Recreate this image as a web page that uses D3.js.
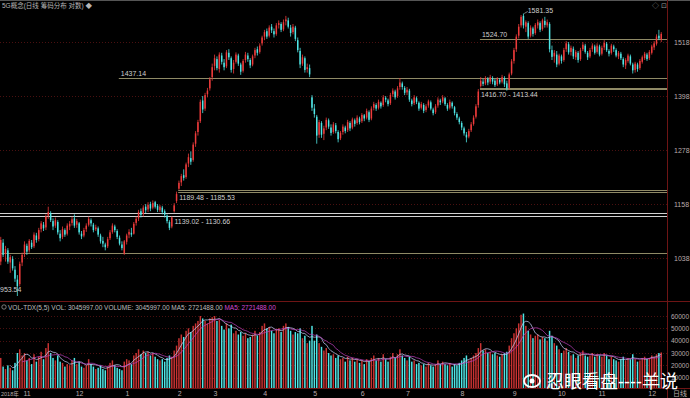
<!DOCTYPE html>
<meta charset="utf-8">
<html>
<head>
<script src="https://cdn.jsdelivr.net/npm/d3@7"></script>
<style>
  body { margin: 0; background: #000; }
  svg { display: block; }
  text { font-family: 'Liberation Sans', 'Noto Sans CJK SC', sans-serif; }
</style>
</head>
<body>
<script>
// month labels on the time axis and the candle index where each month starts
var monthLabels = ['2018年', '11', '12', '1', '2', '3', '4', '5', '6', '7', '8', '9', '10', '11', '12'];
var monthStart = [0, 9, 31, 52, 74, 89, 110, 131, 151, 170, 193, 215, 234, 251, 272];

// daily prices (Oct 2018 .. Dec 2019)
var open = [
  1030,1072,1048,1055,1028,1036,1012,990,980,
  1028,1048,1065,1055,1072,1064,1088,1080,1102,1112,1106,1132,1138,1120,1110,1118,1092,1085,1100,1092,1108,1116,
  1126,1112,1115,1092,1088,1102,1112,1122,1112,1102,1104,1088,1076,1068,1064,1082,1096,1108,1098,1083,1068,
  1048,1074,1090,1094,1092,1116,1126,1142,1136,1152,1146,1158,1150,1162,1154,1144,1150,1142,1132,1118,1108,1142,
  1165,1192,1206,1222,1218,1248,1260,1256,1292,1318,1342,1388,1370,1402,1415,
  1440,1465,1480,1458,1488,1472,1464,1494,1482,1458,1474,1488,1468,1454,1478,1488,1478,1468,1488,1502,1496,
  1515,1530,1542,1532,1552,1542,1536,1556,1558,1546,1564,1566,1550,1540,1550,1522,1498,1470,1482,1458,1460,
  1395,1370,1352,1312,1338,1314,1328,1344,1328,1318,1333,1318,1304,1318,1328,1322,1338,1328,1344,1338,
  1348,1342,1355,1350,1362,1348,1372,1378,1372,1383,1378,1394,1388,1382,1402,1408,1398,1418,1426,
  1416,1406,1410,1388,1382,1393,1383,1372,1378,1367,1377,1384,1368,1362,1377,1388,1386,1393,1378,1372,1383,1373,1358,
  1348,1338,1326,1312,1308,1322,1336,1352,1378,1420,1430,1426,1436,1430,1438,1432,1424,1434,1430,1438,1426,1416,
  1448,1476,1502,1532,1555,1576,1552,1560,1532,1548,1538,1555,1560,1547,1565,1555,1558,1500,1486,
  1490,1470,1486,1478,1502,1513,1496,1503,1484,1494,1480,1502,1510,1494,1486,1502,1508,
  1496,1508,1492,1506,1514,1498,1494,1508,1500,1486,1492,1480,1466,1476,1486,1468,1456,1468,1460,1474,1482,
  1490,1482,1494,1506,1514,1532,1524
];
var close = [
  1078,1045,1058,1030,1040,1015,992,975,1025,
  1045,1068,1052,1076,1062,1090,1078,1100,1115,1104,1130,1140,1122,1108,1122,1095,1082,1102,1090,1110,1114,1124,
  1110,1120,1095,1086,1100,1110,1125,1115,1100,1106,1090,1075,1070,1062,1080,1095,1110,1100,1085,1070,1060,
  1075,1088,1096,1090,1114,1125,1140,1134,1150,1144,1156,1148,1160,1152,1145,1152,1140,1134,1120,1105,1128,1155,
  1180,1205,1220,1216,1246,1262,1252,1290,1315,1340,1385,1368,1400,1410,1435,
  1462,1482,1460,1490,1474,1462,1495,1484,1456,1472,1490,1470,1452,1476,1490,1480,1466,1486,1500,1494,1510,
  1528,1540,1530,1550,1544,1535,1555,1560,1545,1562,1568,1552,1538,1552,1525,1500,1468,1484,1456,1462,1446,
  1372,1358,1310,1340,1312,1326,1345,1330,1316,1335,1320,1302,1316,1330,1320,1340,1326,1346,1336,1350,
  1340,1356,1348,1365,1345,1370,1380,1370,1385,1375,1395,1390,1380,1400,1410,1395,1415,1428,1418,
  1405,1412,1390,1380,1395,1385,1370,1380,1365,1375,1386,1370,1360,1375,1390,1384,1395,1380,1370,1385,1375,1360,1350,
  1340,1328,1315,1306,1320,1335,1350,1375,1408,1432,1425,1438,1428,1440,1430,1422,1436,1428,1440,1424,1415,1446,
  1475,1500,1530,1552,1574,1555,1562,1530,1550,1536,1556,1562,1545,1566,1556,1562,1502,1485,1494,
  1468,1488,1476,1500,1515,1495,1505,1486,1496,1478,1500,1512,1496,1484,1500,1510,1494,
  1510,1490,1505,1516,1500,1492,1510,1502,1488,1494,1482,1468,1478,1488,1470,1455,1470,1458,1476,1484,1492,
  1480,1496,1508,1515,1530,1526,1536
];
var high = [
  1085,1080,1065,1060,1045,1042,1020,1000,1030,
  1050,1075,1070,1080,1078,1095,1094,1105,1120,1118,1135,1152,1142,1126,1128,1122,1100,1108,1104,1115,1120,1130,
  1135,1125,1118,1098,1105,1115,1130,1126,1116,1112,1108,1092,1085,1072,1085,1100,1115,1112,1102,1088,1075,
  1078,1092,1102,1105,1118,1130,1145,1148,1155,1158,1162,1163,1166,1165,1158,1156,1154,1146,1135,1122,1130.66,1160,
  1185.53,1210,1225,1235,1250,1270,1275,1295,1320,1345,1390,1398,1405,1416,1440,
  1470,1490,1486,1495,1494,1480,1500,1502,1486,1478,1495,1492,1472,1480,1496,1494,1482,1490,1505,1508,1515,
  1532,1545,1548,1555,1558,1548,1560,1566,1562,1568,1576,1572,1556,1558,1554,1528,1505,1490,1486,1470,1468,
  1400,1380,1356,1345,1342,1332,1350,1348,1335,1340,1338,1322,1320,1335,1332,1345,1342,1350,1348,1355,
  1352,1360,1358,1370,1366,1375,1385,1382,1390,1386,1400,1398,1392,1405,1415,1412,1420,1438,1430,
  1420,1418,1414,1392,1400,1397,1386,1385,1382,1380,1390,1388,1372,1380,1395,1392,1400,1396,1382,1390,1386,1376,1362,
  1352,1342,1330,1318,1325,1340,1355,1380,1413.44,1440,1436,1442,1440,1445,1442,1436,1440,1438,1445,1442,1432,1450,
  1480,1505,1535,1558,1578,1581.35,1566,1564,1555,1552,1560,1568,1564,1570,1574,1568,1562,1510,1500,
  1498,1492,1490,1505,1520,1518,1510,1508,1500,1498,1505,1518,1514,1498,1505,1515,1512,
  1515,1512,1510,1522,1518,1502,1514,1512,1504,1498,1496,1484,1482,1492,1490,1472,1474,1472,1480,1488,1496,
  1494,1500,1512,1520,1535,1545,1540
];
var low = [
  1022,1040,1030,1025,1005,1010,985,953.54,975,
  1020,1040,1045,1050,1058,1060,1072,1075,1095,1098,1100,1125,1118,1100,1105,1090,1075,1080,1085,1088,1100,1110,
  1105,1105,1090,1080,1084,1096,1108,1108,1095,1098,1085,1070,1062,1055,1060,1078,1092,1095,1080,1066,1055,
  1045,1068,1082,1085,1090,1110,1120,1128,1130,1138,1140,1142,1146,1148,1140,1140,1135,1128,1115,1100,1104,1139.02,
  1160,1189.48,1198,1210,1214,1240,1245,1252,1285,1310,1338,1360,1365,1395,1410,
  1432,1455,1455,1450,1468,1455,1460,1478,1450,1448,1470,1465,1445,1450,1472,1474,1460,1464,1482,1488,1492,
  1510,1522,1525,1528,1538,1528,1532,1548,1540,1542,1555,1548,1530,1535,1520,1495,1460,1465,1450,1450,1440,
  1365,1350,1292,1305,1305,1300,1322,1325,1310,1314,1315,1295,1300,1312,1315,1318,1320,1324,1330,1334,
  1335,1338,1342,1346,1340,1344,1366,1365,1368,1370,1374,1384,1375,1378,1396,1390,1394,1412,1412,
  1400,1400,1385,1375,1378,1380,1365,1368,1360,1362,1372,1366,1355,1358,1372,1378,1382,1376,1365,1368,1370,1355,1345,
  1335,1322,1310,1295,1304,1318,1332,1348,1372,1416.70,1420,1422,1422,1425,1424,1418,1420,1424,1426,1418,1410,1412,
  1444,1470,1496,1526,1550,1548,1540,1525,1528,1530,1534,1548,1540,1543,1550,1550,1495,1478,1472,
  1462,1466,1470,1474,1496,1490,1488,1480,1478,1472,1476,1498,1492,1478,1482,1496,1490,
  1492,1486,1488,1500,1496,1486,1490,1496,1484,1480,1478,1462,1458,1472,1466,1448,1450,1452,1456,1470,1478,
  1476,1478,1490,1500,1510,1522,1518
];
// volume in units of 10,000
var volume = [
  260,190,170,200,180,160,220,300,330,
  280,300,240,260,210,290,230,270,310,250,340,380,300,260,240,280,230,220,190,210,200,240,
  260,210,230,190,180,200,250,210,190,170,180,200,170,160,190,220,240,200,180,170,160,
  230,250,240,210,280,300,330,290,320,300,310,280,300,270,250,240,250,230,260,280,270,320,
  360,420,450,430,480,500,470,520,540,560,600,580,560,540,580,
  590,600,560,570,520,490,540,500,530,460,480,450,470,440,460,420,430,450,480,440,470,
  520,540,500,510,480,460,490,500,470,520,540,510,480,450,470,460,500,420,440,380,400,
  520,400,450,380,350,320,340,300,280,290,260,280,250,260,230,270,240,260,230,250,
  220,240,210,250,230,260,280,240,260,230,290,250,230,270,300,260,290,330,280,
  260,240,270,230,240,210,220,200,210,190,220,200,190,210,240,210,230,210,200,220,190,210,200,
  220,240,260,280,240,260,280,300,340,380,320,330,300,310,290,300,280,270,290,300,310,360,
  420,460,500,540,610,620,520,480,450,420,440,450,410,430,420,400,480,440,380,
  360,330,300,320,340,310,280,290,260,280,300,320,280,270,280,300,270,
  290,280,270,300,280,250,270,250,240,230,250,270,240,260,250,290,250,230,240,260,270,
  250,260,280,270,290,300,304.6
];

// price axis ticks and volume axis ticks
var priceTicks = [1038, 1158, 1278, 1398, 1518];
var volTicks = [100, 200, 300, 400, 500, 600];

// drawn level lines: price, first candle index, label
var levelPrices = [1524.70, 1437.14, 1049];
var levelFrom = [202, 50, 0];
var levelText = ['1524.70', '1437.14', ''];

// price gaps: top, bottom, first candle index, label
var gapTop = [1416.70, 1189.48, 1139.02];
var gapBottom = [1413.44, 1185.53, 1130.66];
var gapFrom = [202, 75, 73];
var gapText = ['1416.70 - 1413.44', '1189.48 - 1185.53', '1139.02 - 1130.66'];

var W = 690, H = 398;
var plotRight = 667;
var upColor = '#ee3b3b', downColor = '#4fe6e6';
var lineColor = '#8f8a66', axisColor = '#6e1515', textColor = '#b9abab';

var svg = d3.select('body').append('svg')
  .attr('width', W).attr('height', H);

svg.append('rect').attr('width', W).attr('height', H).attr('fill', '#000');

var n = close.length;
var x = d3.scaleBand().domain(d3.range(n)).range([0, 662]).paddingInner(0.38);
var y = d3.scaleLinear().domain([1038, 1518]).range([258, 42]);
var yv = d3.scaleLinear().domain([0, 600]).range([390, 316]);

//Frame
svg.append('line').attr('x1', 0).attr('x2', W).attr('y1', 0.5).attr('y2', 0.5)
  .attr('stroke', '#555');
svg.append('line').attr('x1', plotRight + 0.5).attr('x2', plotRight + 0.5)
  .attr('y1', 0).attr('y2', H).attr('stroke', axisColor);
svg.append('line').attr('x1', 0).attr('x2', W).attr('y1', 301.5).attr('y2', 301.5)
  .attr('stroke', axisColor);
svg.append('line').attr('x1', 0).attr('x2', W).attr('y1', 388.5).attr('y2', 388.5)
  .attr('stroke', axisColor);

//Grid lines
svg.selectAll('.pgrid').data(priceTicks).enter().append('line')
  .attr('x1', 0).attr('x2', plotRight)
  .attr('y1', d => Math.round(y(d)) + 0.5).attr('y2', d => Math.round(y(d)) + 0.5)
  .attr('stroke', '#4a1010').attr('stroke-dasharray', '1,2');
svg.selectAll('.vgrid').data(volTicks).enter().append('line')
  .attr('x1', 0).attr('x2', plotRight)
  .attr('y1', d => Math.round(yv(d)) + 0.5).attr('y2', d => Math.round(yv(d)) + 0.5)
  .attr('stroke', '#4a1010').attr('stroke-dasharray', '1,2');

//Price axis labels
svg.selectAll('.plab').data(priceTicks).enter().append('text')
  .attr('x', 674).attr('y', d => y(d) + 2.5)
  .attr('font-size', 7).attr('fill', textColor)
  .text(d => d);
svg.selectAll('.vlab').data(volTicks).enter().append('text')
  .attr('x', 671).attr('y', d => yv(d) + 2.5)
  .attr('font-size', 6.5).attr('fill', textColor)
  .text(d => d * 100);

//Time axis labels
svg.selectAll('.mlab').data(monthLabels).enter().append('text')
  .attr('x', (d, i) => i === 0 ? 1 : x(monthStart[i]) + 2)
  .attr('y', 396)
  .attr('font-size', (d, i) => i === 0 ? 5.5 : 7).attr('fill', textColor)
  .attr('font-family', 'Noto Sans CJK SC')
  .text(d => d);
svg.append('text').attr('x', 673).attr('y', 396)
  .attr('font-size', 7).attr('fill', textColor)
  .attr('font-family', 'Noto Sans CJK SC').text('日线');

//Level lines
levelPrices.forEach(function (p, k) {
  var x0 = levelFrom[k] === 0 ? 0 : x(levelFrom[k]);
  svg.append('line').attr('x1', x0).attr('x2', plotRight)
    .attr('y1', Math.round(y(p)) + 0.5).attr('y2', Math.round(y(p)) + 0.5)
    .attr('stroke', lineColor);
  if (levelText[k]) {
    svg.append('text').attr('x', x0 + 2).attr('y', y(p) - 2)
      .attr('font-size', 7).attr('fill', '#cfcfcf').text(levelText[k]);
  }
});

//Gaps (the last one runs over the whole width)
gapTop.forEach(function (p, k) {
  var x0 = x(gapFrom[k]);
  var full = k === 2;
  var col = full ? '#d0d0d0' : lineColor;
  [p, gapBottom[k]].forEach(function (q) {
    svg.append('line').attr('x1', full ? 0 : x0).attr('x2', plotRight)
      .attr('y1', Math.round(y(q)) + 0.5).attr('y2', Math.round(y(q)) + 0.5)
      .attr('stroke', col);
  });
  svg.append('text').attr('x', x0 + 1).attr('y', y(gapBottom[k]) + 8)
    .attr('font-size', 7).attr('fill', '#cfcfcf').text(gapText[k]);
});

//Candles
var bw = x.bandwidth();
var g = svg.append('g');
d3.range(n).forEach(function (i) {
  var up = close[i] >= open[i];
  var col = up ? upColor : downColor;
  var cx = x(i) + bw / 2;
  g.append('line').attr('x1', cx).attr('x2', cx)
    .attr('y1', y(high[i])).attr('y2', y(low[i]))
    .attr('stroke', col).attr('stroke-width', 0.8);
  var top = y(Math.max(open[i], close[i]));
  var h = Math.max(1, y(Math.min(open[i], close[i])) - top);
  g.append('rect').attr('x', x(i)).attr('y', top)
    .attr('width', bw).attr('height', h)
    .attr('fill', col);
});

//High / low marks
var hiIdx = d3.maxIndex(high), loIdx = d3.minIndex(low);
svg.append('line').attr('x1', x(hiIdx) + bw).attr('x2', x(hiIdx) + 5)
  .attr('y1', y(high[hiIdx])).attr('y2', y(high[hiIdx]) - 2)
  .attr('stroke', '#cfcfcf').attr('stroke-width', 0.6);
svg.append('text').attr('x', x(hiIdx) + 5).attr('y', y(high[hiIdx]))
  .attr('font-size', 7).attr('fill', '#cfcfcf').text(high[hiIdx].toFixed(2));
svg.append('text').attr('x', 0).attr('y', y(low[loIdx]) - 4)
  .attr('font-size', 7).attr('fill', '#cfcfcf').text(low[loIdx].toFixed(2));

//Volume bars
var vg = svg.append('g');
d3.range(n).forEach(function (i) {
  var up = close[i] >= open[i];
  vg.append('rect').attr('x', x(i)).attr('y', yv(volume[i]))
    .attr('width', bw).attr('height', yv(0) - yv(volume[i]) - 2)
    .attr('fill', up ? '#c83232' : downColor);
});

//Volume moving averages
function ma(k) {
  return d3.range(n).map(i => i < k - 1 ? null : d3.mean(volume.slice(i - k + 1, i + 1)));
}
var maLine = d3.line().defined(d => d != null)
  .x((d, i) => x(i) + bw / 2).y(d => yv(d));
svg.append('path').datum(ma(5)).attr('d', maLine)
  .attr('fill', 'none').attr('stroke', '#c9d3ff').attr('stroke-width', 0.7);
svg.append('path').datum(ma(10)).attr('d', maLine)
  .attr('fill', 'none').attr('stroke', '#c040c0').attr('stroke-width', 0.7);

//Headers
svg.append('text').attr('x', 2).attr('y', 8)
  .attr('font-size', 6.5).attr('fill', '#b5b5b5')
  .attr('font-family', 'Noto Sans CJK SC')
  .text('5G概念(日线 筹码分布 对数) ◆');
svg.append('text').attr('x', 652).attr('y', 8)
  .attr('font-size', 7).attr('fill', '#999').text('◇ ⊡');

svg.append('circle').attr('cx', 4).attr('cy', 307).attr('r', 2.2)
  .attr('fill', 'none').attr('stroke', '#aaa').attr('stroke-width', 0.7);
var vt = svg.append('text').attr('x', 8).attr('y', 310).attr('font-size', 6.5);
vt.append('tspan').attr('fill', '#bdbdbd')
  .text('VOL-TDX(5,5) VOL: 3045997.00  VOLUME: 3045997.00  MA5: 2721488.00 ');
vt.append('tspan').attr('fill', '#d24bd2').text('MA5: 2721488.00');

//Watermark
var wm = svg.append('g').attr('transform', 'translate(532,381)');
wm.append('ellipse').attr('rx', 8).attr('ry', 6)
  .attr('fill', 'none').attr('stroke', '#fff').attr('stroke-width', 1.8);
wm.append('circle').attr('r', 2.5).attr('fill', '#fff');
svg.append('text').attr('x', 546).attr('y', 388)
  .attr('font-size', 18).attr('fill', '#fff')
  .attr('font-family', 'Noto Sans CJK SC')
  .text('忍眼看盘----羊说');
</script>
</body>
</html>
